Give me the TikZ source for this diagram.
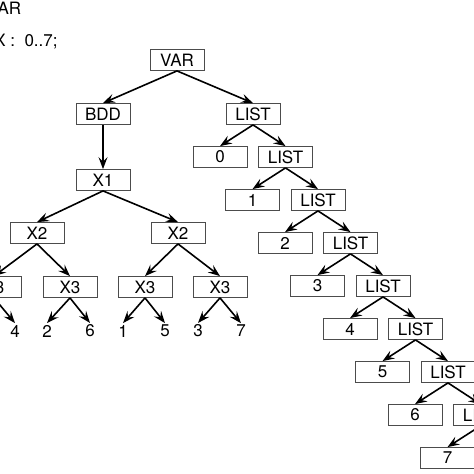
\documentclass[tikz,border=0pt]{standalone}
\usepackage{fontspec}
\setmainfont{TeX Gyre Heros}
\usetikzlibrary{arrows.meta}

\tikzset{every picture/.style={line width=0.75pt}}
\tikzset{
  cell/.style={draw=black!70, line width=0.8pt, minimum width=54pt, minimum height=21pt, inner sep=0pt, font=\fontsize{17}{19}\selectfont},
  leaf/.style={inner sep=1.5pt, font=\fontsize{17}{19}\selectfont},
  plain/.style={inner sep=0pt, font=\fontsize{17}{19}\selectfont},
  link/.style={line width=1.6pt, -{Stealth[length=12pt,width=9pt,inset=4.5pt]}}
}

\begin{document}
\begin{tikzpicture}[x=1pt,y=1pt,yscale=-1,xscale=1]
\useasboundingbox (0,0) rectangle (474,474);
\clip (0,0) rectangle (474,474);

%Text: declaration
\node[plain, anchor=base west] (kwvar) at (-13,14) {VAR};
\node[plain, anchor=base east] (decl) at (58,46) {X :\ \ 0..7;};

%Shape: Rectangle -- root
\node[cell] (var) at (177,60) {VAR};
\node[cell] (bdd) at (103,114) {BDD};
\node[cell] (xone) at (103,180) {X1};
\node[cell] (xtwoa) at (37,233) {X2};
\node[cell] (xtwob) at (178,233) {X2};
\node[cell] (xthreea) at (-6,287) {X3};
\node[cell] (xthreeb) at (70,287) {X3};
\node[cell] (xthreec) at (145,287) {X3};
\node[cell] (xthreed) at (220,287) {X3};

%Text: leaves of the bdd
\node[leaf] (lfour) at (15,331) {4};
\node[leaf] (ltwo) at (47,331) {2};
\node[leaf] (lsix) at (90,331) {6};
\node[leaf] (lone) at (123,331) {1};
\node[leaf] (lfive) at (165,331) {5};
\node[leaf] (lthree) at (198,331) {3};
\node[leaf] (lseven) at (241,331) {7};

%Shape: Rectangle -- list chain
\node[cell] (lsta) at (253,114) {LIST};
\node[cell] (numa) at (220,157) {0};
\node[cell] (lstb) at (285.5,157) {LIST};
\node[cell] (numb) at (252.5,200) {1};
\node[cell] (lstc) at (318,200) {LIST};
\node[cell] (numc) at (285,243) {2};
\node[cell] (lstd) at (350.5,243) {LIST};
\node[cell] (numd) at (317.5,286) {3};
\node[cell] (lste) at (383,286) {LIST};
\node[cell] (nume) at (350,329) {4};
\node[cell] (lstf) at (415.5,329) {LIST};
\node[cell] (numf) at (382.5,372) {5};
\node[cell] (lstg) at (448,372) {LIST};
\node[cell] (numg) at (415,415) {6};
\node[cell] (lsth) at (480.5,415) {LIST};
\node[cell] (numh) at (447.5,458) {7};

%Straight Lines -- bdd side
\draw[link] (var.south) -- (bdd.north);
\draw[link] (bdd.south) -- (xone.north);
\draw[link] (xone.south) -- (xtwoa.north);
\draw[link] (xone.south) -- (xtwob.north);
\draw[link] (xtwoa.south) -- (xthreea.north);
\draw[link] (xtwoa.south) -- (xthreeb.north);
\draw[link] (xtwob.south) -- (xthreec.north);
\draw[link] (xtwob.south) -- (xthreed.north);
\draw[link] (xthreea.south) -- (lfour.north);
\draw[link] (xthreeb.south) -- (ltwo.north);
\draw[link] (xthreeb.south) -- (lsix.north);
\draw[link] (xthreec.south) -- (lone.north);
\draw[link] (xthreec.south) -- (lfive.north);
\draw[link] (xthreed.south) -- (lthree.north);
\draw[link] (xthreed.south) -- (lseven.north);

%Straight Lines -- list side
\draw[link] (var.south) -- (lsta.north);
\draw[link] (lsta.south) -- (numa.north);
\draw[link] (lsta.south) -- (lstb.north);
\draw[link] (lstb.south) -- (numb.north);
\draw[link] (lstb.south) -- (lstc.north);
\draw[link] (lstc.south) -- (numc.north);
\draw[link] (lstc.south) -- (lstd.north);
\draw[link] (lstd.south) -- (numd.north);
\draw[link] (lstd.south) -- (lste.north);
\draw[link] (lste.south) -- (nume.north);
\draw[link] (lste.south) -- (lstf.north);
\draw[link] (lstf.south) -- (numf.north);
\draw[link] (lstf.south) -- (lstg.north);
\draw[link] (lstg.south) -- (numg.north);
\draw[link] (lstg.south) -- (lsth.north);
\draw[link] (lsth.south) -- (numh.north);

\end{tikzpicture}
\end{document}
